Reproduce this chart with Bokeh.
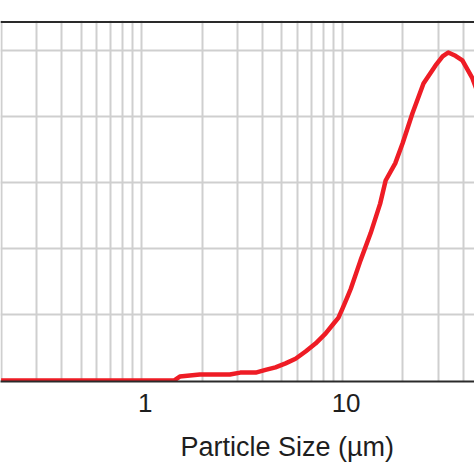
from bokeh.plotting import figure
from bokeh.models import FixedTicker, Span, Title, Range1d
from bokeh.embed import file_html
from bokeh.resources import INLINE

# Particle size distribution
sizes_um = [0.2, 0.5, 1.0, 1.45, 1.55, 1.95, 2.75, 3.1, 3.7, 4.14, 4.64, 5.21,
            5.84, 6.55, 7.34, 8.23, 9.02, 9.54, 10.0, 10.6, 11.0, 12.3, 13.8,
            15.4, 16.4, 18.3, 19.9, 22.3, 25.3, 29.0, 31.5, 33.6, 36.5, 39.5,
            44.3, 48.6]
volume_pct = [0.0, 0.0, 0.0, 0.0, 0.06, 0.09, 0.09, 0.12, 0.12, 0.16, 0.20, 0.26,
              0.33, 0.44, 0.56, 0.71, 0.86, 0.95, 1.09, 1.27, 1.39, 1.82, 2.23,
              2.68, 3.03, 3.29, 3.59, 4.05, 4.50, 4.77, 4.91, 4.97, 4.92, 4.85,
              4.58, 4.25]

x_major_ticks = [1, 10]
x_tick_labels = {1: "\u00a01", 10: "\u00a010"}
x_minor_ticks = [0.2, 0.3, 0.4, 0.5, 0.6, 0.7, 0.8, 0.9,
                 2, 3, 4, 5, 6, 7, 8, 9, 20, 30, 40]
y_ticks = [1, 2, 3, 4, 5]
x_title = "Particle Size (µm)"

p = figure(width=474, height=474, x_axis_type="log",
           x_range=Range1d(0.1986, 45.4), y_range=Range1d(-0.015, 5.4545),
           output_backend="svg", toolbar_location=None,
           min_border_left=0, min_border_right=0, min_border_top=20,
           min_border_bottom=93)
p.outline_line_color = None
p.background_fill_color = "white"
p.border_fill_color = "white"

p.yaxis.visible = False

xt = FixedTicker(ticks=x_major_ticks, minor_ticks=x_minor_ticks)
yt = FixedTicker(ticks=y_ticks, minor_ticks=[])
p.xaxis.ticker = xt
p.xgrid.ticker = xt
p.yaxis.ticker = yt
p.ygrid.ticker = yt
p.xaxis.major_label_overrides = x_tick_labels

grid_col = "#cfcfcf"
p.xgrid.grid_line_color = grid_col
p.xgrid.grid_line_width = 2
p.xgrid.minor_grid_line_color = grid_col
p.xgrid.minor_grid_line_width = 2
p.ygrid.grid_line_color = grid_col
p.ygrid.grid_line_width = 2

ax = p.xaxis[0]
ax.axis_line_color = "#2a2a2a"
ax.axis_line_width = 2
ax.major_tick_line_color = None
ax.minor_tick_line_color = None
ax.major_tick_out = 0
ax.major_label_standoff = 2
ax.major_label_text_font = "Liberation Sans"
ax.major_label_text_font_size = "26px"
ax.major_label_text_color = "#1e1e1e"

p.add_layout(Span(location=5.432, dimension="width", line_color="#2a2a2a",
                  line_width=2))

p.line(sizes_um, volume_pct, line_color="#ee1c25", line_width=4.5,
       line_join="round")

p.add_layout(Title(text=x_title, align="left", offset=180,
                   text_font="Liberation Sans", text_font_size="27px",
                   text_font_style="normal", text_color="#1e1e1e",
                   standoff=18), "below")

open("out.html", "w").write(file_html(p, INLINE))
